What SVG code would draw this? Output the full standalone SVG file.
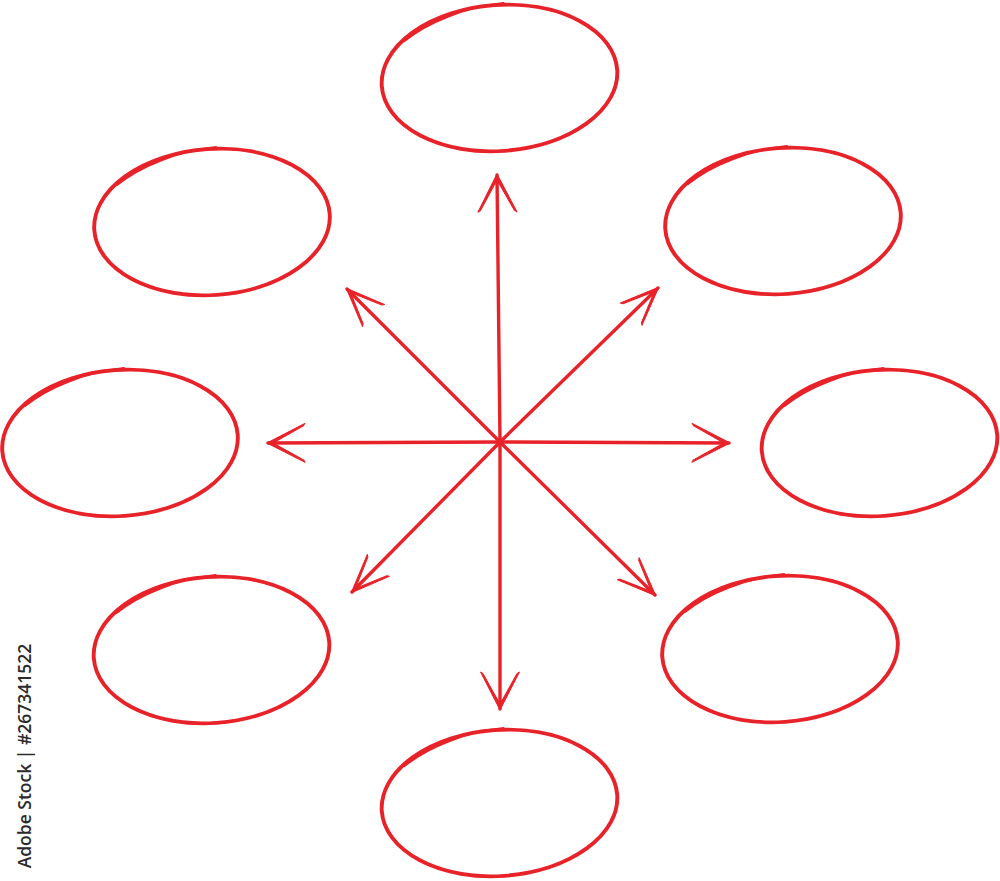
<svg xmlns="http://www.w3.org/2000/svg" xmlns:xlink="http://www.w3.org/1999/xlink" width="1000" height="881" viewBox="0 0 1000 881">
  <style>
    .oval { fill: none; stroke: #e82229; stroke-width: 3.9; }
    .overlap { fill: none; stroke: #e82229; stroke-width: 2.2; stroke-linecap: round; }
    .shaft { fill: none; stroke: #e82229; stroke-width: 3.4; stroke-linecap: round; }
    .head { fill: #e82229; stroke: #e82229; stroke-width: 1; stroke-linejoin: round; }
    .credit { font-family: "Open Sans", "Liberation Sans", sans-serif; font-size: 17.5px; font-weight: 600; fill: #2b2b2b; }
  </style>
  <defs>
    <g id="oval">
      <ellipse class="oval" cx="0" cy="0" rx="118" ry="73" transform="rotate(-4)"/>
      <path class="overlap" d="M4,-75 C-34,-71 -72,-56 -95,-37"/>
    </g>
    <marker id="ah" markerUnits="userSpaceOnUse" markerWidth="60" markerHeight="60" viewBox="-50 -30 60 60" refX="0" refY="0" orient="auto" overflow="visible">
      <path class="head" d="M-37,-19.5 L1,0 L-37,19.5 L-35.5,17 L-5,0 L-35.5,-17 Z"/>
    </marker>
    <marker id="ahd" markerUnits="userSpaceOnUse" markerWidth="60" markerHeight="60" viewBox="-50 -30 60 60" refX="0" refY="0" orient="auto" overflow="visible">
      <path class="head" d="M-37.5,-15.5 L1,0 L-37.5,15.5 L-36,13.2 L-5,0 L-36,-13.2 Z"/>
    </marker>
  </defs>
  <rect x="0" y="0" width="1000" height="881" fill="#ffffff"/>

  <g id="connectors">
    <line class="shaft" x1="500" y1="442" x2="497" y2="175" marker-end="url(#ah)"/>
    <line class="shaft" x1="500" y1="442" x2="500" y2="709" marker-end="url(#ah)"/>
    <line class="shaft" x1="500" y1="442" x2="268" y2="443" marker-end="url(#ah)"/>
    <line class="shaft" x1="500" y1="442" x2="729" y2="443" marker-end="url(#ah)"/>
    <line class="shaft" x1="500" y1="442" x2="347" y2="289" marker-end="url(#ahd)"/>
    <line class="shaft" x1="500" y1="442" x2="658" y2="288" marker-end="url(#ahd)"/>
    <line class="shaft" x1="500" y1="442" x2="352" y2="592" marker-end="url(#ahd)"/>
    <line class="shaft" x1="500" y1="442" x2="655" y2="595" marker-end="url(#ahd)"/>
  </g>

  <g id="node-top"><use xlink:href="#oval" href="#oval" transform="translate(499.5,78)"/></g>
  <g id="node-top-left"><use xlink:href="#oval" href="#oval" transform="translate(212,222)"/></g>
  <g id="node-top-right"><use xlink:href="#oval" href="#oval" transform="translate(783,221)"/></g>
  <g id="node-left"><use xlink:href="#oval" href="#oval" transform="translate(120,443)"/></g>
  <g id="node-right"><use xlink:href="#oval" href="#oval" transform="translate(879.5,443)"/></g>
  <g id="node-bottom-left"><use xlink:href="#oval" href="#oval" transform="translate(211.5,650)"/></g>
  <g id="node-bottom-right"><use xlink:href="#oval" href="#oval" transform="translate(780,649)"/></g>
  <g id="node-bottom"><use xlink:href="#oval" href="#oval" transform="translate(499.5,803)"/></g>

  <text class="credit" x="0" y="0" text-anchor="middle" transform="translate(31,756) rotate(-90)">Adobe Stock | #267341522</text>
</svg>
